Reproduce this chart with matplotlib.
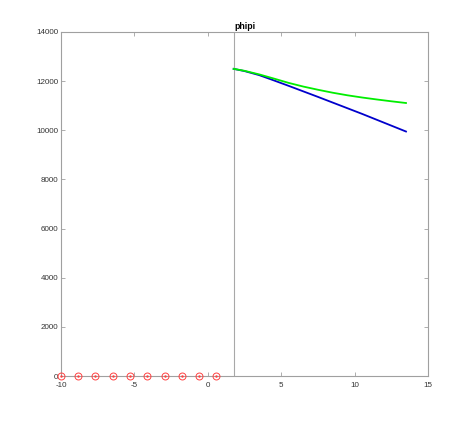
import numpy as np
import matplotlib
matplotlib.use("Agg")
import matplotlib.pyplot as plt

# data
marker_x = [-10.0, -8.82, -7.65, -6.47, -5.29, -4.12, -2.94, -1.76, -0.59, 0.59]
marker_y = [0] * 10
vline_x = 1.76
line_x = [1.76, 2.5, 3.5, 4.5, 5.5, 6.5, 7.5, 8.5, 9.5, 10.5, 11.5, 12.5, 13.5]
blue_y = [12500, 12410, 12245, 12030, 11810, 11585, 11360, 11130, 10900, 10670, 10430, 10190, 9950]
green_y = [12500, 12420, 12275, 12105, 11930, 11780, 11650, 11530, 11425, 11335, 11255, 11180, 11110]
xticks = [-10, -5, 0, 5, 10, 15]
yticks = [0, 2000, 4000, 6000, 8000, 10000, 12000, 14000]
title = "phipi"

plt.rcParams['font.family'] = ['Liberation Sans', 'DejaVu Sans']
fig = plt.figure(figsize=(4.74, 4.23), dpi=100)
ax = fig.add_axes([61/474, 47/423, 367/474, 344/423])

axcol = '#a0a0a0'
ax.axvline(vline_x, color='#a8a8a8', lw=0.8, zorder=1)
ax.plot(line_x, blue_y, color='#0000cc', lw=1.3, zorder=2)
ax.plot(line_x, green_y, color='#00ee00', lw=1.3, zorder=3)
ax.plot(marker_x, marker_y, 'o', mfc='none', mec='#ff4040', ms=5, mew=0.7, zorder=4, clip_on=False)
ax.plot(marker_x, marker_y, '.', color='#ff4040', ms=1.5, zorder=4, clip_on=False)

ax.set_xlim(-10, 15)
ax.set_ylim(0, 14000)
ax.set_xticks(xticks)
ax.set_yticks(yticks)
ax.set_xticklabels([str(t) for t in xticks])
ax.set_yticklabels([str(t) for t in yticks])
for s in ax.spines.values():
    s.set_color(axcol)
    s.set_linewidth(0.8)
ax.tick_params(direction='in', top=True, right=True, length=3, width=0.6,
               color=axcol, labelcolor='#333333', labelsize=5.8, pad=2)
ax.tick_params(axis='x', pad=4)
ax.set_title(title, fontsize=6.3, fontweight='bold', pad=2)

fig.savefig("out.png", dpi=100)
